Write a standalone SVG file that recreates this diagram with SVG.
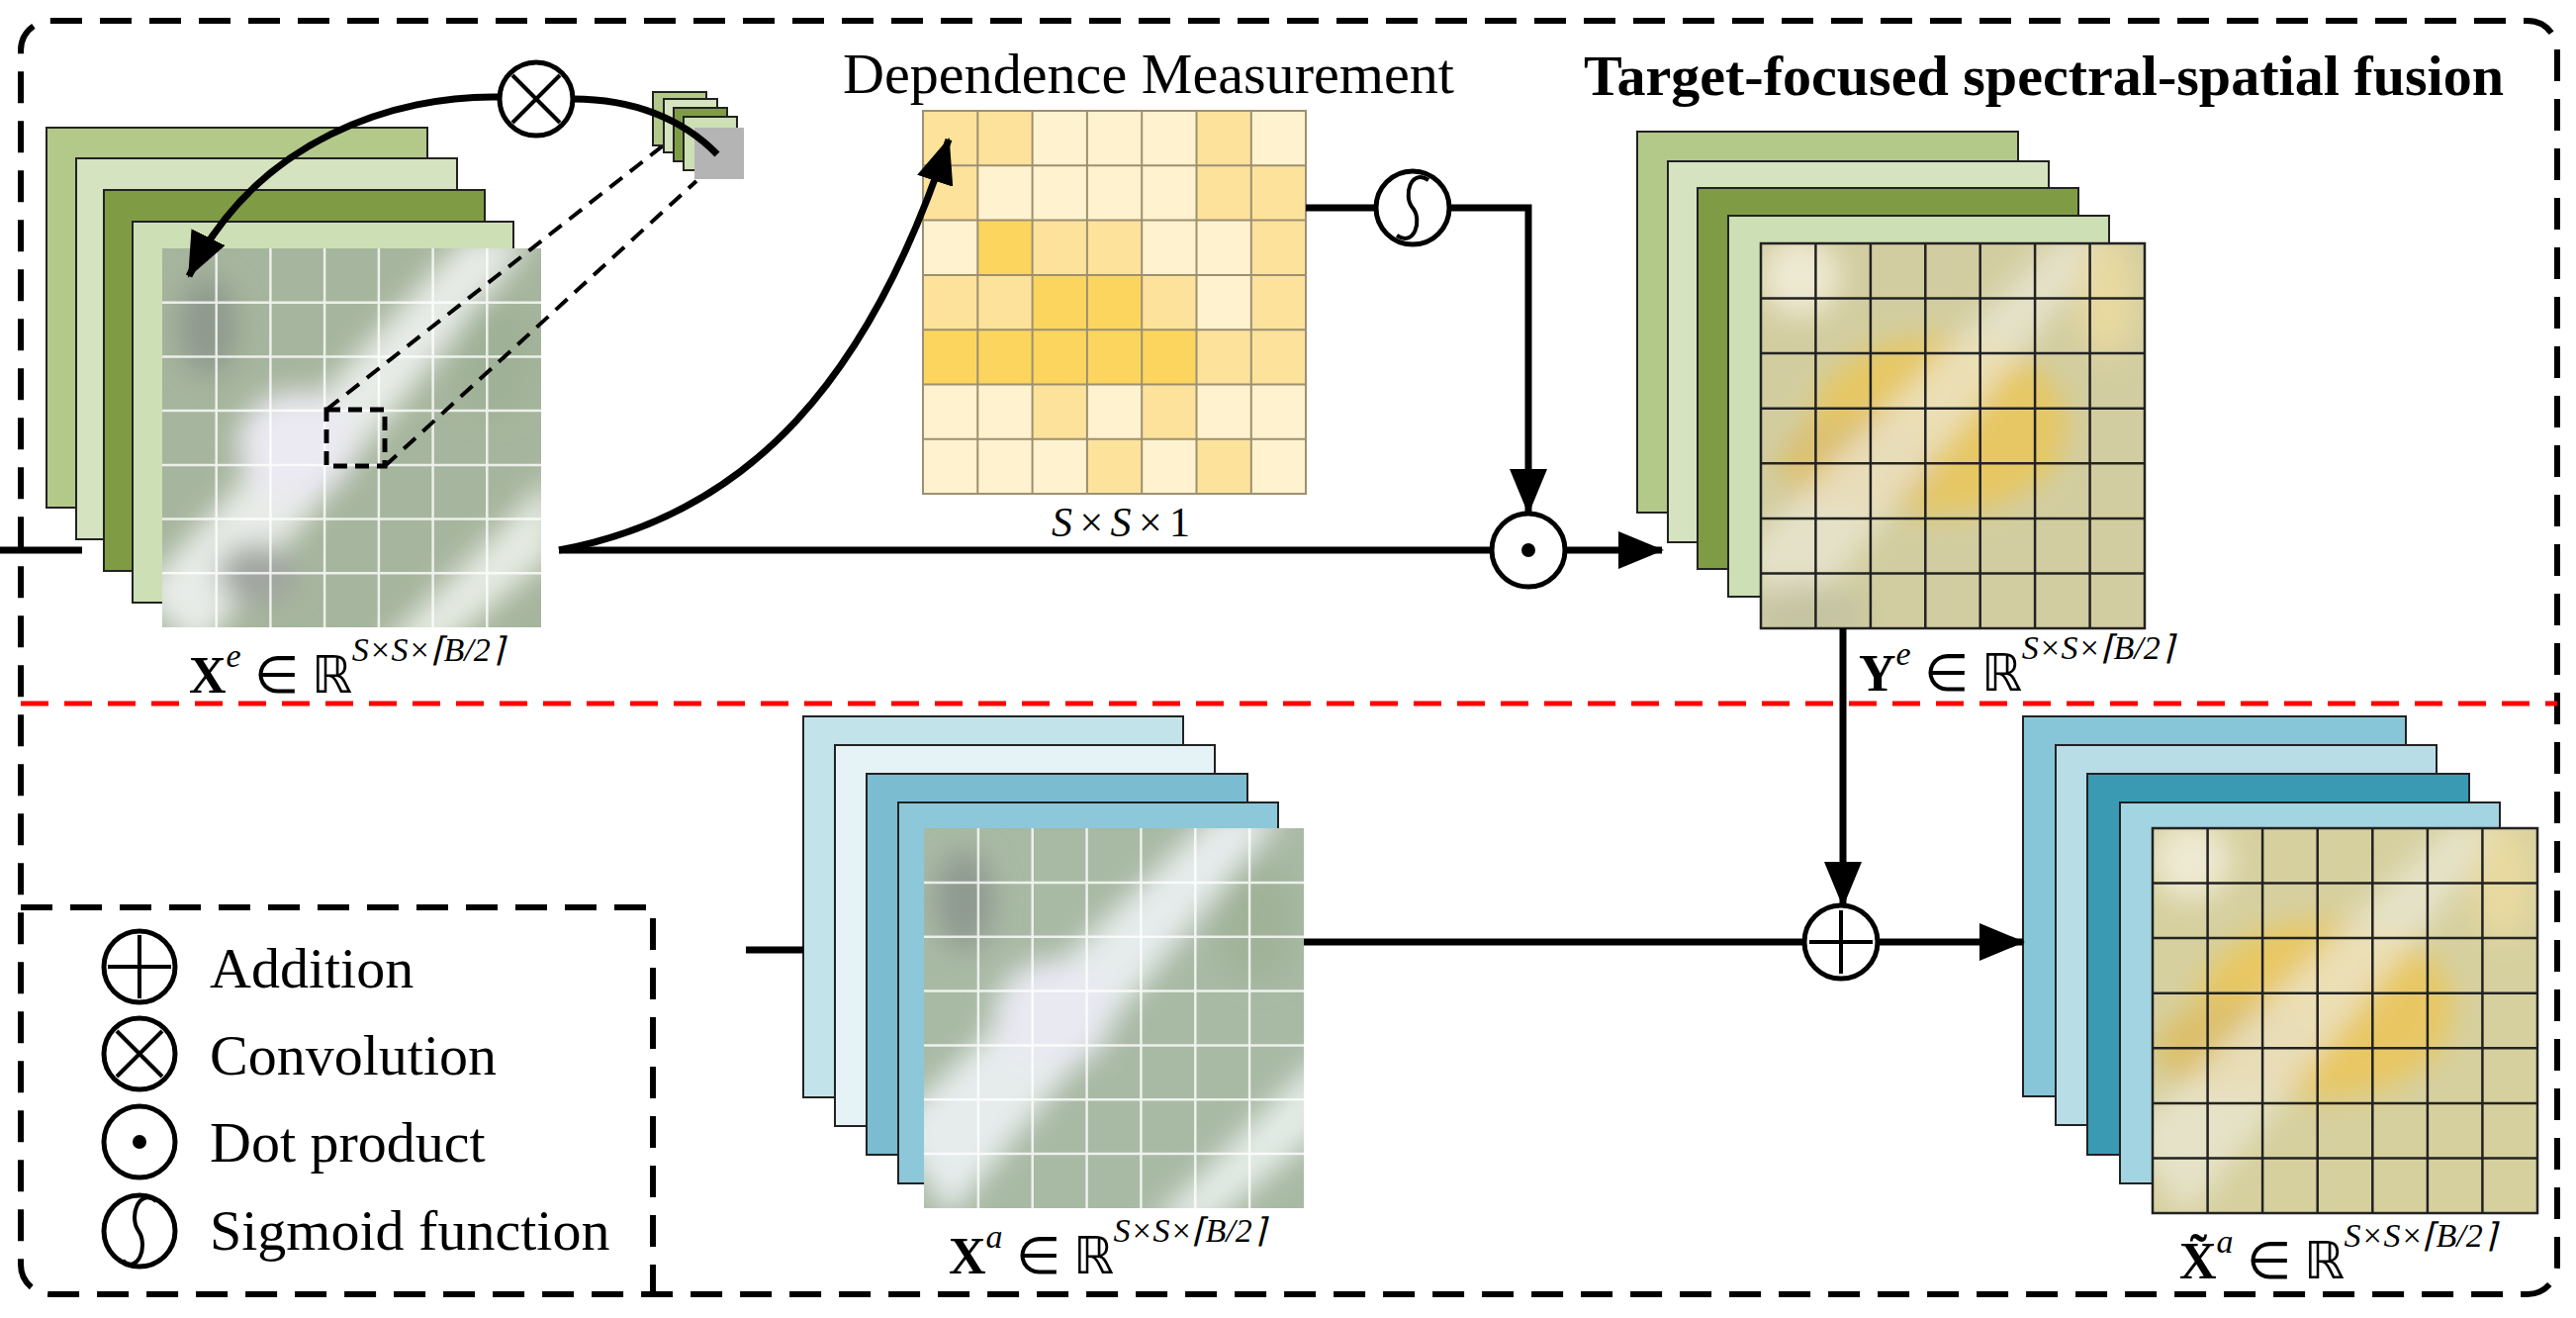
<svg xmlns="http://www.w3.org/2000/svg" width="2604" height="1332" viewBox="0 0 2604 1332">
<style>
.ln{fill:none;stroke:#000;stroke-width:7}
.dash{fill:none;stroke:#000;stroke-width:6;stroke-dasharray:32 18}
.sym{fill:#fff;stroke:#000;stroke-width:5}
.symi{fill:none;stroke:#000;stroke-width:4}
.txt{font-family:"Liberation Serif",serif;fill:#000}
.lay{stroke:#222;stroke-width:2}
.l{fill:#fff2cf}.m{fill:#fde29c}.d{fill:#fcd55f}
.wg{fill:none;stroke:#fff;stroke-width:2.5;opacity:0.8}
.bg{fill:none;stroke:#222;stroke-width:2.5}
.mg{fill:none;stroke:#9c9070;stroke-width:2}
</style>
<defs>
<marker id="ah" markerUnits="userSpaceOnUse" markerWidth="46" markerHeight="38" viewBox="0 0 46 38" refX="44" refY="19" orient="auto"><path d="M0,0 L46,19 L0,38 z" fill="#000"/></marker>
<filter id="bl" x="-20%" y="-20%" width="140%" height="140%"><feGaussianBlur stdDeviation="14"/></filter>
<clipPath id="cXe"><rect x="164" y="251" width="383" height="383"/></clipPath>
<clipPath id="cXa"><rect x="934" y="837" width="384" height="384"/></clipPath>
<clipPath id="cYe"><rect x="1780" y="246" width="388" height="389"/></clipPath>
<clipPath id="cXt"><rect x="2176" y="837" width="389" height="389"/></clipPath>
</defs>

<rect x="21" y="21" width="2564" height="1287" rx="30" class="dash"/>
<line x1="21" y1="711" x2="2585" y2="711" stroke="#f00" stroke-width="5" stroke-dasharray="28 16"/>

<g id="legend">
<path d="M21,917 H660 V1308" class="dash"/>
<circle cx="141" cy="977" r="36" class="sym"/><path d="M141,945 V1009 M109,977 H173" class="symi"/>
<text x="212" y="998" class="txt" font-size="58">Addition</text>
<circle cx="141" cy="1065" r="36" class="sym"/><path d="M118,1042 L164,1088 M164,1042 L118,1088" class="symi"/>
<text x="212" y="1086" class="txt" font-size="58">Convolution</text>
<circle cx="141" cy="1154" r="36" class="sym"/><circle cx="141" cy="1154" r="7" fill="#000"/>
<text x="212" y="1174" class="txt" font-size="58">Dot product</text>
<circle cx="141" cy="1244" r="36" class="sym"/><path d="M158,1214 C140,1200 130,1230 140,1244 C150,1258 140,1288 124,1274" class="symi"/>
<text x="212" y="1263" class="txt" font-size="58">Sigmoid function</text>
</g>

<g id="Xe">
<rect x="47" y="129" width="385" height="384" fill="#b3c98a" class="lay"/>
<rect x="77" y="160" width="385" height="385" fill="#d5e3c0" class="lay"/>
<rect x="105" y="192" width="385" height="385" fill="#7f9c45" class="lay"/>
<rect x="134" y="224" width="385" height="385" fill="#cddfb5" class="lay"/>
<g clip-path="url(#cXe)">
<rect x="164" y="251" width="383" height="383" fill="#a6b59d"/>
<g filter="url(#bl)">
<path d="M140,600 L470,240 L540,240 L200,660 z" fill="#e8ece8"/>
<path d="M380,660 L560,480 L560,560 L440,660 z" fill="#e6ebe3"/>
<ellipse cx="300" cy="450" rx="60" ry="55" fill="#ebe9f2"/>
<ellipse cx="210" cy="330" rx="30" ry="50" fill="#8f9a8e"/>
<ellipse cx="260" cy="580" rx="40" ry="30" fill="#a0a5a0"/>
<ellipse cx="500" cy="360" rx="40" ry="60" fill="#9fb196"/>
</g>
</g>
<path d="M218.7,251 V634 M273.4,251 V634 M328.1,251 V634 M382.9,251 V634 M437.6,251 V634 M492.3,251 V634 M164,305.7 H547 M164,360.4 H547 M164,415.1 H547 M164,469.9 H547 M164,524.6 H547 M164,579.3 H547" class="wg"/>
<rect x="330" y="414" width="59" height="57" fill="none" stroke="#000" stroke-width="5" stroke-dasharray="14 8"/>
<path d="M330,414 L673,145 M389,471 L704,183" fill="none" stroke="#000" stroke-width="4" stroke-dasharray="16 10"/>
<text x="191" y="700" class="txt" font-size="52"><tspan font-weight="bold">X</tspan><tspan font-style="italic" font-size="34" dy="-26">e</tspan><tspan dy="26"> ∈ ℝ</tspan><tspan font-style="italic" font-size="34" dy="-32">S×S×⌈B/2⌉</tspan></text>
</g>

<g id="kernel">
<rect x="660" y="93" width="54" height="54" fill="#b3c98a" class="lay"/>
<rect x="671" y="100" width="54" height="54" fill="#d5e3c0" class="lay"/>
<rect x="681" y="109" width="54" height="54" fill="#7f9c45" class="lay"/>
<rect x="691" y="118" width="54" height="54" fill="#cddfb5" class="lay"/>
<rect x="702" y="129" width="50" height="52" fill="#b4b4b4"/>
</g>

<g id="conv">
<circle cx="542" cy="100" r="37" class="sym"/><path d="M518,76 L566,124 M566,76 L518,124" class="symi"/>
</g>

<g id="dep">
<text x="852" y="94" class="txt" font-size="58" textLength="618" lengthAdjust="spacingAndGlyphs">Dependence Measurement</text>
<rect x="933" y="112" width="55.3" height="55.3" class="m"/><rect x="988.3" y="112" width="55.3" height="55.3" class="m"/><rect x="1043.6" y="112" width="55.3" height="55.3" class="l"/><rect x="1098.9" y="112" width="55.3" height="55.3" class="l"/><rect x="1154.2" y="112" width="55.3" height="55.3" class="l"/><rect x="1209.5" y="112" width="55.3" height="55.3" class="m"/><rect x="1264.8" y="112" width="55.3" height="55.3" class="l"/>
<rect x="933" y="167.3" width="55.3" height="55.3" class="m"/><rect x="988.3" y="167.3" width="55.3" height="55.3" class="l"/><rect x="1043.6" y="167.3" width="55.3" height="55.3" class="l"/><rect x="1098.9" y="167.3" width="55.3" height="55.3" class="l"/><rect x="1154.2" y="167.3" width="55.3" height="55.3" class="l"/><rect x="1209.5" y="167.3" width="55.3" height="55.3" class="m"/><rect x="1264.8" y="167.3" width="55.3" height="55.3" class="m"/>
<rect x="933" y="222.6" width="55.3" height="55.3" class="l"/><rect x="988.3" y="222.6" width="55.3" height="55.3" class="d"/><rect x="1043.6" y="222.6" width="55.3" height="55.3" class="m"/><rect x="1098.9" y="222.6" width="55.3" height="55.3" class="m"/><rect x="1154.2" y="222.6" width="55.3" height="55.3" class="l"/><rect x="1209.5" y="222.6" width="55.3" height="55.3" class="l"/><rect x="1264.8" y="222.6" width="55.3" height="55.3" class="m"/>
<rect x="933" y="277.9" width="55.3" height="55.3" class="m"/><rect x="988.3" y="277.9" width="55.3" height="55.3" class="m"/><rect x="1043.6" y="277.9" width="55.3" height="55.3" class="d"/><rect x="1098.9" y="277.9" width="55.3" height="55.3" class="d"/><rect x="1154.2" y="277.9" width="55.3" height="55.3" class="m"/><rect x="1209.5" y="277.9" width="55.3" height="55.3" class="l"/><rect x="1264.8" y="277.9" width="55.3" height="55.3" class="m"/>
<rect x="933" y="333.2" width="55.3" height="55.3" class="d"/><rect x="988.3" y="333.2" width="55.3" height="55.3" class="d"/><rect x="1043.6" y="333.2" width="55.3" height="55.3" class="d"/><rect x="1098.9" y="333.2" width="55.3" height="55.3" class="d"/><rect x="1154.2" y="333.2" width="55.3" height="55.3" class="d"/><rect x="1209.5" y="333.2" width="55.3" height="55.3" class="m"/><rect x="1264.8" y="333.2" width="55.3" height="55.3" class="m"/>
<rect x="933" y="388.5" width="55.3" height="55.3" class="l"/><rect x="988.3" y="388.5" width="55.3" height="55.3" class="l"/><rect x="1043.6" y="388.5" width="55.3" height="55.3" class="m"/><rect x="1098.9" y="388.5" width="55.3" height="55.3" class="l"/><rect x="1154.2" y="388.5" width="55.3" height="55.3" class="m"/><rect x="1209.5" y="388.5" width="55.3" height="55.3" class="l"/><rect x="1264.8" y="388.5" width="55.3" height="55.3" class="l"/>
<rect x="933" y="443.8" width="55.3" height="55.3" class="l"/><rect x="988.3" y="443.8" width="55.3" height="55.3" class="l"/><rect x="1043.6" y="443.8" width="55.3" height="55.3" class="l"/><rect x="1098.9" y="443.8" width="55.3" height="55.3" class="m"/><rect x="1154.2" y="443.8" width="55.3" height="55.3" class="l"/><rect x="1209.5" y="443.8" width="55.3" height="55.3" class="m"/><rect x="1264.8" y="443.8" width="55.3" height="55.3" class="l"/>
<path d="M933,112 H1320 V499 H933 z M988.3,112 V499 M1043.6,112 V499 M1098.9,112 V499 M1154.2,112 V499 M1209.5,112 V499 M1264.8,112 V499 M933,167.3 H1320 M933,222.6 H1320 M933,277.9 H1320 M933,333.2 H1320 M933,388.5 H1320 M933,443.8 H1320" class="mg"/>
<text x="1063" y="542" class="txt" font-size="42" font-style="italic" textLength="140">S<tspan font-style="normal">×</tspan>S<tspan font-style="normal">×1</tspan></text>
</g>

<g id="sigmoid">
<circle cx="1428" cy="210" r="37" class="sym"/><path d="M1444,182 C1426,170 1418,198 1428,210 C1438,222 1430,250 1412,238" class="symi"/>
</g>
<g id="dot">
<circle cx="1545" cy="556" r="37" class="sym"/><circle cx="1545" cy="556" r="7" fill="#000"/>
</g>
<g id="add">
<circle cx="1861" cy="952" r="37" class="sym"/><path d="M1861,920 V984 M1829,952 H1893" class="symi"/>
</g>

<g id="Ye">
<text x="1601" y="96" class="txt" font-size="56" font-weight="bold" textLength="930" lengthAdjust="spacingAndGlyphs">Target-focused spectral-spatial fusion</text>
<rect x="1655" y="133" width="385" height="385" fill="#b3c98a" class="lay"/>
<rect x="1686" y="163" width="385" height="385" fill="#d5e3c0" class="lay"/>
<rect x="1716" y="190" width="385" height="385" fill="#7f9c45" class="lay"/>
<rect x="1747" y="218" width="385" height="385" fill="#cddfb5" class="lay"/>
<g clip-path="url(#cYe)">
<rect x="1780" y="246" width="388" height="389" fill="#d2cda0"/>
<g filter="url(#bl)">
<ellipse cx="1960" cy="430" rx="130" ry="90" fill="#e6c764"/>
<ellipse cx="1880" cy="470" rx="80" ry="50" fill="#dcc070"/>
<path d="M1760,560 L2080,240 L2140,240 L1810,640 z" fill="#ecead8" opacity="0.7"/>
<ellipse cx="1820" cy="280" rx="40" ry="40" fill="#eee9d2"/>
<ellipse cx="2130" cy="300" rx="30" ry="60" fill="#e8d9a0"/>
<ellipse cx="1830" cy="620" rx="60" ry="30" fill="#c5c4a2"/>
</g>
</g>
<path d="M1780,246 H2168 V635 H1780 z M1835.4,246 V635 M1890.9,246 V635 M1946.3,246 V635 M2001.7,246 V635 M2057.1,246 V635 M2112.6,246 V635 M1780,301.6 H2168 M1780,357.1 H2168 M1780,412.7 H2168 M1780,468.3 H2168 M1780,523.9 H2168 M1780,579.4 H2168" class="bg"/>
<text x="1879" y="698" class="txt" font-size="52"><tspan font-weight="bold">Y</tspan><tspan font-style="italic" font-size="34" dy="-26">e</tspan><tspan dy="26"> ∈ ℝ</tspan><tspan font-style="italic" font-size="34" dy="-32">S×S×⌈B/2⌉</tspan></text>
</g>

<g id="Xa">
<rect x="812" y="724" width="384" height="385" fill="#c3e3eb" class="lay"/>
<rect x="844" y="753" width="384" height="385" fill="#e6f3f6" class="lay"/>
<rect x="876" y="782" width="385" height="385" fill="#7bbcd0" class="lay"/>
<rect x="908" y="811" width="384" height="385" fill="#8cc8d9" class="lay"/>
<g clip-path="url(#cXa)">
<rect x="934" y="837" width="384" height="384" fill="#a8b9a4"/>
<g filter="url(#bl)">
<path d="M900,1140 L1230,820 L1300,820 L960,1230 z" fill="#e6ecec"/>
<path d="M1160,1240 L1340,1060 L1340,1140 L1220,1240 z" fill="#e3ebe6"/>
<ellipse cx="1065" cy="1025" rx="60" ry="55" fill="#e9e9f2"/>
<ellipse cx="975" cy="910" rx="30" ry="50" fill="#8f9a90"/>
<ellipse cx="1270" cy="930" rx="40" ry="60" fill="#a0b298"/>
</g>
</g>
<path d="M988.9,837 V1221 M1043.7,837 V1221 M1098.6,837 V1221 M1153.4,837 V1221 M1208.3,837 V1221 M1263.1,837 V1221 M934,891.9 H1318 M934,946.7 H1318 M934,1001.6 H1318 M934,1056.4 H1318 M934,1111.3 H1318 M934,1166.1 H1318" class="wg"/>
<text x="959" y="1287" class="txt" font-size="52"><tspan font-weight="bold">X</tspan><tspan font-style="italic" font-size="34" dy="-26">a</tspan><tspan dy="26"> ∈ ℝ</tspan><tspan font-style="italic" font-size="34" dy="-32">S×S×⌈B/2⌉</tspan></text>
</g>

<g id="Xt">
<rect x="2045" y="724" width="387" height="384" fill="#87c6d8" class="lay"/>
<rect x="2078" y="753" width="385" height="384" fill="#b8dde7" class="lay"/>
<rect x="2110" y="782" width="386" height="385" fill="#3a9ab4" class="lay"/>
<rect x="2143" y="811" width="384" height="385" fill="#a3d4e1" class="lay"/>
<g clip-path="url(#cXt)">
<rect x="2176" y="837" width="389" height="389" fill="#d6d09f"/>
<g filter="url(#bl)">
<ellipse cx="2350" cy="1020" rx="130" ry="90" fill="#e8c764"/>
<ellipse cx="2260" cy="1060" rx="80" ry="50" fill="#dcbf6a"/>
<path d="M2150,1150 L2480,830 L2540,830 L2210,1230 z" fill="#ecead8" opacity="0.7"/>
<ellipse cx="2215" cy="870" rx="40" ry="40" fill="#eee9d2"/>
<ellipse cx="2530" cy="890" rx="30" ry="60" fill="#e8d9a0"/>
</g>
</g>
<path d="M2176,837 H2565 V1226 H2176 z M2231.6,837 V1226 M2287.1,837 V1226 M2342.7,837 V1226 M2398.3,837 V1226 M2453.9,837 V1226 M2509.4,837 V1226 M2176,892.6 H2565 M2176,948.1 H2565 M2176,1003.7 H2565 M2176,1059.3 H2565 M2176,1114.9 H2565 M2176,1170.4 H2565" class="bg"/>
<text x="2203" y="1292" class="txt" font-size="52"><tspan font-weight="bold">X̃</tspan><tspan font-style="italic" font-size="34" dy="-26">a</tspan><tspan dy="26"> ∈ ℝ</tspan><tspan font-style="italic" font-size="34" dy="-32">S×S×⌈B/2⌉</tspan></text>
</g>

<g id="connectors">
<path d="M0,556 H83" class="ln"/>
<path d="M565,556 H1508" class="ln"/>
<path d="M565,556 C760,520 880,380 959,141" class="ln" marker-end="url(#ah)"/>
<path d="M725,156 C690,120 640,100 579,100" class="ln"/>
<path d="M505,98 C400,96 260,140 191,279" class="ln" marker-end="url(#ah)"/>
<path d="M1320,210 H1391" class="ln"/>
<path d="M1465,210 H1545 V518" class="ln" stroke-width="5" marker-end="url(#ah)"/>
<path d="M1582,556 H1680" class="ln" marker-end="url(#ah)"/>
<path d="M1863,635 V915" class="ln" stroke-width="5" marker-end="url(#ah)"/>
<path d="M754,960 H812" class="ln"/>
<path d="M1318,952 H1824" class="ln"/>
<path d="M1898,952 H2045" class="ln" marker-end="url(#ah)"/>
</g>
</svg>
